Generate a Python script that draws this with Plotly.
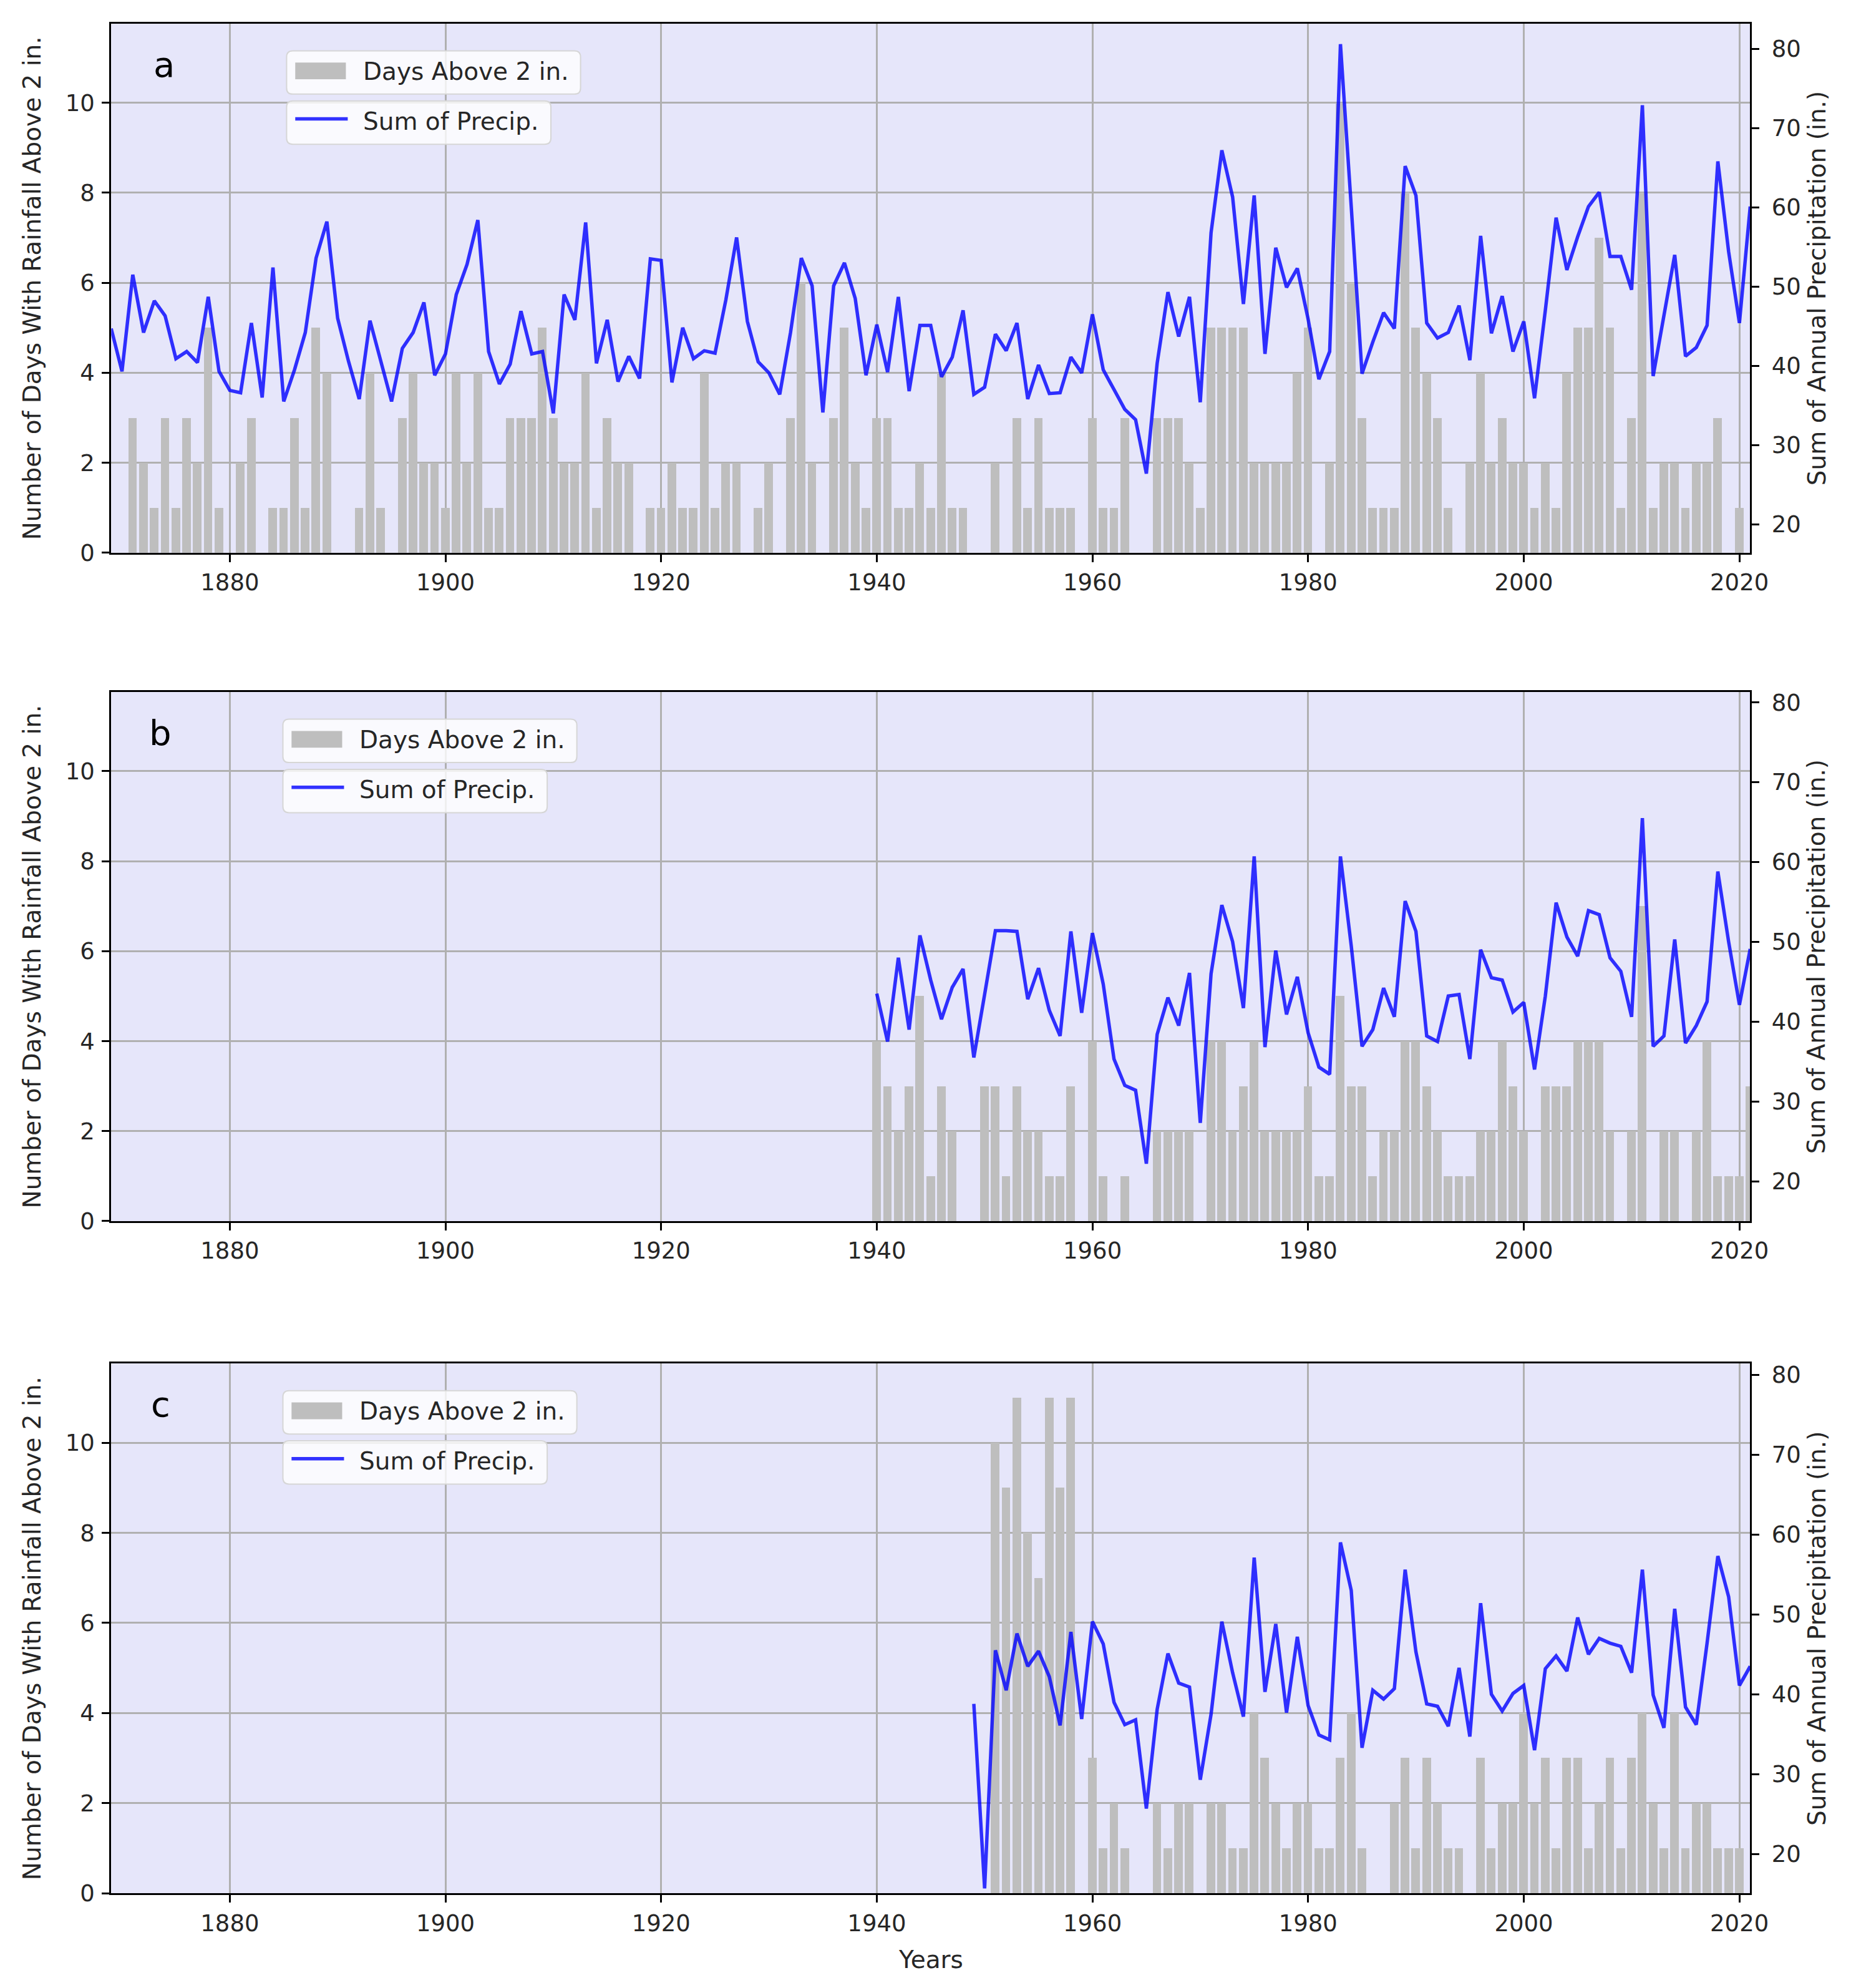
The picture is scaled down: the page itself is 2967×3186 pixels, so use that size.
import plotly.graph_objects as go

# ---- data (days >= 2 in. per year, annual precip sum) ----
YEARS_A = list(range(1869, 2022))
DAYS_A = [
    0, 0, 3, 2, 1, 3, 1, 3, 2, 5,   # 1869-1878
    1, 0, 2, 3, 0, 1, 1, 3, 1, 5,   # 1879-1888
    4, 0, 0, 1, 4, 1, 0, 3, 4, 2,   # 1889-1898
    2, 1, 4, 2, 4, 1, 1, 3, 3, 3,   # 1899-1908
    5, 3, 2, 2, 4, 1, 3, 2, 2, 0,   # 1909-1918
    1, 1, 2, 1, 1, 4, 1, 2, 2, 0,   # 1919-1928
    1, 2, 0, 3, 6, 2, 0, 3, 5, 2,   # 1929-1938
    1, 3, 3, 1, 1, 2, 1, 4, 1, 1,   # 1939-1948
    0, 0, 2, 0, 3, 1, 3, 1, 1, 1,   # 1949-1958
    0, 3, 1, 1, 3, 0, 0, 3, 3, 3,   # 1959-1968
    2, 1, 5, 5, 5, 5, 2, 2, 2, 2,   # 1969-1978
    4, 5, 0, 2, 10, 6, 3, 1, 1, 1,  # 1979-1988
    8, 5, 4, 3, 1, 0, 2, 4, 2, 3,   # 1989-1998
    2, 2, 1, 2, 1, 4, 5, 5, 7, 5,   # 1999-2008
    1, 3, 8, 1, 2, 2, 1, 2, 2, 3,   # 2009-2018
    0, 1, 0,                        # 2019-2021
]
PRECIP_A = [
    44.7, 39.3, 51.5, 44.2, 48.2, 46.3, 40.9, 41.8, 40.4, 48.7,
    39.3, 36.9, 36.6, 45.4, 36.0, 52.4, 35.5, 39.5, 44.2, 53.6,
    58.2, 46.0, 40.6, 35.8, 45.7, 40.6, 35.5, 42.2, 44.2, 48.0,
    38.8, 41.5, 49.0, 52.8, 58.4, 41.8, 37.7, 40.2, 46.9, 41.5,
    41.8, 34.0, 49.0, 45.8, 58.1, 40.3, 45.8, 38.0, 41.2, 38.4,
    53.5, 53.3, 37.9, 44.8, 40.9, 41.9, 41.6, 48.3, 56.2, 45.6,
    40.5, 39.1, 36.4, 44.2, 53.6, 50.1, 34.1, 50.1, 53.0, 48.5,
    38.8, 45.2, 39.2, 48.7, 36.8, 45.1, 45.1, 38.6, 41.1, 47.0,
    36.4, 37.3, 44.0, 41.9, 45.4, 35.8, 40.1, 36.5, 36.6, 41.1,
    39.1, 46.5, 39.5, 37.0, 34.5, 33.2, 26.4, 40.3, 49.3, 43.7,
    48.7, 35.4, 56.8, 67.2, 61.3, 47.8, 61.5, 41.5, 54.9, 49.9,
    52.3, 45.9, 38.3, 41.8, 80.6, 60.1, 39.0, 43.0, 46.7, 44.7,
    65.2, 61.5, 45.4, 43.5, 44.2, 47.6, 40.7, 56.4, 44.1, 48.8,
    41.8, 45.6, 35.9, 47.0, 58.7, 52.1, 56.3, 60.1, 61.9, 53.8,
    53.8, 49.6, 72.9, 38.7, 46.3, 54.0, 41.2, 42.3, 45.1, 65.8,
    54.4, 45.4, 60.1,
]

YEARS_B = list(range(1940, 2022))
DAYS_B = [
    4, 3, 2, 3, 5, 1, 3, 2, 0, 0,   # 1940-1949
    3, 3, 1, 3, 2, 2, 1, 1, 3, 0,   # 1950-1959
    4, 1, 0, 1, 0, 0, 2, 2, 2, 2,   # 1960-1969
    0, 4, 4, 2, 3, 4, 2, 2, 2, 2,   # 1970-1979
    3, 1, 1, 5, 3, 3, 1, 2, 2, 4,   # 1980-1989
    4, 3, 2, 1, 1, 1, 2, 2, 4, 3,   # 1990-1999
    2, 0, 3, 3, 3, 4, 4, 4, 2, 0,   # 2000-2009
    2, 7, 0, 2, 2, 0, 2, 4, 1, 1,   # 2010-2019
    1, 3,                           # 2020-2021
]
PRECIP_B = [
    43.5, 37.5, 48.0, 39.0, 50.8, 45.2, 40.3, 44.3, 46.6, 35.5,
    43.4, 51.4, 51.4, 51.3, 42.8, 46.7, 41.4, 38.2, 51.3, 41.1,
    51.1, 44.7, 35.3, 32.0, 31.4, 22.2, 38.4, 43.0, 39.5, 46.1,
    27.3, 46.0, 54.6, 50.0, 41.7, 60.7, 36.8, 48.9, 40.9, 45.6,
    38.6, 34.3, 33.4, 60.7, 49.5, 36.9, 39.0, 44.2, 40.6, 55.1,
    51.3, 38.2, 37.5, 43.2, 43.4, 35.3, 49.0, 45.5, 45.2, 41.2,
    42.4, 34.0, 43.2, 54.9, 50.6, 48.2, 53.9, 53.4, 48.0, 46.3,
    40.6, 65.5, 36.9, 38.2, 50.3, 37.3, 39.5, 42.5, 58.8, 50.0,
    42.1, 49.1,
]

YEARS_C = list(range(1949, 2022))
DAYS_C = [
    0, 0, 10, 9, 11, 8, 7, 11, 9, 11,  # 1949-1958
    0, 3, 1, 2, 1, 0, 0, 2, 1, 2,      # 1959-1968
    2, 0, 2, 2, 1, 1, 4, 3, 2, 1,      # 1969-1978
    2, 2, 1, 1, 3, 4, 1, 0, 0, 2,      # 1979-1988
    3, 1, 3, 2, 1, 1, 0, 3, 1, 2,      # 1989-1998
    2, 4, 2, 3, 1, 3, 3, 1, 2, 3,      # 1999-2008
    1, 3, 4, 2, 1, 4, 1, 2, 2, 1,      # 2009-2018
    1, 1, 0,                           # 2019-2021
]
PRECIP_C = [
    38.8, 15.7, 45.5, 40.5, 47.6, 43.5, 45.4, 42.2, 36.1, 47.8,
    36.9, 49.1, 46.3, 39.0, 36.2, 36.8, 25.7, 38.1, 45.1, 41.4,
    40.9, 29.3, 37.5, 49.1, 42.7, 37.2, 57.1, 40.3, 48.8, 37.7,
    47.2, 38.6, 34.9, 34.3, 59.0, 53.0, 33.3, 40.5, 39.4, 40.7,
    55.6, 45.3, 38.8, 38.5, 36.0, 43.3, 34.7, 51.4, 40.0, 37.9,
    40.1, 41.1, 33.0, 43.2, 44.8, 42.9, 49.6, 45.0, 47.0, 46.4,
    46.0, 42.7, 55.6, 39.9, 35.8, 50.7, 38.4, 36.2, 46.4, 57.3,
    52.2, 41.1, 43.5,
]

X_TICKS = [1880, 1900, 1920, 1940, 1960, 1980, 2000, 2020]
LEFT_TICKS = [0, 2, 4, 6, 8, 10]
RIGHT_TICKS = [20, 30, 40, 50, 60, 70, 80]

BAR_NAME = "Days Above 2 in."
LINE_NAME = "Sum of Precip."
LEFT_TITLE = "Number of Days With Rainfall Above 2 in."
RIGHT_TITLE = "Sum of Annual Precipitation (in.)"

BAR_COLOR = "#bebebe"
LINE_COLOR = "rgba(0,0,255,0.8)"

# ---- page geometry in pixels ----
W, H = 2967, 3186
PLOT_L, PLOT_R = 172, 2826
FONT = "DejaVu Sans"
TXT = "#262626"


def fx(px):
    return px / W


def fy(px):
    return 1 - px / H


def rounded_box(x0, y0, x1, y1, r=10):
    # path in paper coords, corners done with quadratic curves
    X, Y = fx, fy
    return (
        f"M{X(x0 + r)},{Y(y0)} L{X(x1 - r)},{Y(y0)} Q{X(x1)},{Y(y0)} {X(x1)},{Y(y0 + r)} "
        f"L{X(x1)},{Y(y1 - r)} Q{X(x1)},{Y(y1)} {X(x1 - r)},{Y(y1)} "
        f"L{X(x0 + r)},{Y(y1)} Q{X(x0)},{Y(y1)} {X(x0)},{Y(y1 - r)} "
        f"L{X(x0)},{Y(y0 + r)} Q{X(x0)},{Y(y0)} {X(x0 + r)},{Y(y0)} Z"
    )


panels = [
    dict(letter="a", years=YEARS_A, days=DAYS_A, precip=PRECIP_A,
         top=26, bottom=881, rrange=[16.4, 83.2], dx=0),
    dict(letter="b", years=YEARS_B, days=DAYS_B, precip=PRECIP_B,
         top=1106, bottom=1961, rrange=[15.0, 81.3], dx=-6),
    dict(letter="c", years=YEARS_C, days=DAYS_C, precip=PRECIP_C,
         top=2191, bottom=3047, rrange=[15.1, 81.4], dx=-6),
]

fig = go.Figure()
layout = {}
annotations = []
shapes = []

axis_common = dict(
    showline=True, linecolor="black", linewidth=3,
    ticks="outside", ticklen=12, tickwidth=3, tickcolor="black",
    tickfont=dict(family=FONT, size=37, color=TXT),
    zeroline=False,
)
text_font = dict(family=FONT, size=39, color=TXT)

for i, p in enumerate(panels):
    n = i + 1
    xa = "x" if n == 1 else f"x{n}"
    yl = "y" if n == 1 else f"y{2 * i + 1}"
    yr = f"y{2 * i + 2}"

    fig.add_trace(go.Bar(
        x=p["years"], y=p["days"], width=0.8,
        marker=dict(color=BAR_COLOR, line=dict(width=0)),
        name=BAR_NAME, xaxis=xa, yaxis=yl,
    ))
    fig.add_trace(go.Scatter(
        x=p["years"], y=p["precip"], mode="lines",
        line=dict(color=LINE_COLOR, width=5.5),
        name=LINE_NAME, xaxis=xa, yaxis=yr,
    ))

    dom = [fy(p["bottom"]), fy(p["top"])]
    layout["xaxis" if n == 1 else f"xaxis{n}"] = dict(
        axis_common, domain=[fx(PLOT_L), fx(PLOT_R)], anchor=yl,
        range=[1869, 2021], tickvals=X_TICKS, mirror=True, ticklabelstandoff=1,
        showgrid=True, gridcolor="#b0b0b0", gridwidth=3,
    )
    layout["yaxis" if n == 1 else f"yaxis{2 * i + 1}"] = dict(
        axis_common, domain=dom, anchor=xa, range=[0, 11.76],
        tickvals=LEFT_TICKS, ticklabelstandoff=4,
        showgrid=True, gridcolor="#b0b0b0", gridwidth=3,
    )
    layout[f"yaxis{2 * i + 2}"] = dict(
        axis_common, anchor=xa, overlaying=yl, side="right",
        range=p["rrange"], tickvals=RIGHT_TICKS, ticklabelstandoff=12,
        showgrid=False,
    )

    # legend boxes drawn like matplotlib's (one per twin axis)
    t, dx = p["top"], p["dx"]
    for (y0, y1, x1) in [(t + 44, t + 114, 932), (t + 125, t + 195, 884)]:
        shapes.append(dict(
            type="path", xref="paper", yref="paper", layer="above",
            path=rounded_box(456 + dx, y0, x1 + dx, y1),
            fillcolor="rgba(255,255,255,0.8)", line=dict(color="#d6d6d6", width=2),
        ))
    shapes.append(dict(
        type="rect", xref="paper", yref="paper", layer="above",
        x0=fx(470 + dx), x1=fx(552 + dx), y0=fy(t + 90), y1=fy(t + 63),
        fillcolor=BAR_COLOR, line=dict(width=0),
    ))
    shapes.append(dict(
        type="line", xref="paper", yref="paper", layer="above",
        x0=fx(470 + dx), x1=fx(555 + dx), y0=fy(t + 154), y1=fy(t + 154),
        line=dict(color=LINE_COLOR, width=5.5),
    ))
    annotations.append(dict(
        text=BAR_NAME, xref="paper", yref="paper", x=fx(578 + dx), y=fy(t + 77),
        xanchor="left", yanchor="middle", showarrow=False, font=text_font,
    ))
    annotations.append(dict(
        text=LINE_NAME, xref="paper", yref="paper", x=fx(578 + dx), y=fy(t + 158),
        xanchor="left", yanchor="middle", showarrow=False, font=text_font,
    ))

    mid = (p["top"] + p["bottom"]) / 2
    annotations.append(dict(
        text=p["letter"], xref="paper", yref="paper",
        x=fx(258 + dx), y=fy(t + 66), xanchor="center", yanchor="middle",
        showarrow=False, font=dict(family=FONT, size=56, color="black"),
    ))
    annotations.append(dict(
        text=LEFT_TITLE, xref="paper", yref="paper", textangle=-90,
        x=fx(44), y=fy(mid), xanchor="center", yanchor="middle",
        showarrow=False, font=text_font,
    ))
    annotations.append(dict(
        text=RIGHT_TITLE, xref="paper", yref="paper", textangle=-90,
        x=fx(2934), y=fy(mid), xanchor="center", yanchor="middle",
        showarrow=False, font=text_font,
    ))

annotations.append(dict(
    text="Years", xref="paper", yref="paper",
    x=fx((PLOT_L + PLOT_R) / 2), y=fy(3154), xanchor="center", yanchor="middle",
    showarrow=False, font=text_font,
))

fig.update_layout(
    **layout,
    annotations=annotations,
    shapes=shapes,
    showlegend=False,
    width=W, height=H,
    margin=dict(l=0, r=0, t=0, b=0),
    autosize=False,
    plot_bgcolor="#e6e6fa",
    paper_bgcolor="white",
    bargap=0,
    font=dict(family=FONT, color=TXT),
)

fig.write_html("out.html")
